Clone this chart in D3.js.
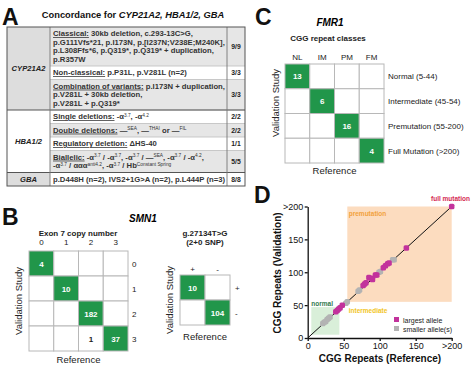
<!DOCTYPE html>
<html>
<head>
<meta charset="utf-8">
<script src="https://cdn.jsdelivr.net/npm/d3@7"></script>
<style>
  body { margin: 0; background: #fff; }
  svg { display: block; font-family: "Liberation Sans", Arial, Helvetica, sans-serif; }
</style>
</head>
<body>
<div id="chart"></div>
<script>
// ---- data ----
// panel A: table of variants
const tableGenes = ["CYP21A2", "HBA1/2", "GBA"]
const geneRowCount = [3, 4, 1]
const tableLines = [
  ["_Classical:_ 30kb deletion, c.293-13C>G,", "p.G111Vfs*21, p.I173N, p.[I237N;V238E;M240K],", "p.L308Ffs*6, p.Q319*, p.Q319* + duplication,", "p.R357W"],
  ["_Non-classical:_ p.P31L, p.V281L (n=2)"],
  ["_Combination of variants:_ p.I173N + duplication,", "p.V281L + 30kb deletion,", "p.V281L + p.Q319*"],
  ["_Single deletions:_ -α^{3.7}, -α^{4.2}"],
  ["_Double deletions:_ —^{SEA}, —^{THAI} or —^{FIL}"],
  ["_Regulatory deletion:_ ΔHS-40"],
  ["_Biallelic:_ -α^{3.7} / -α^{3.7}, -α^{3.7} / —^{SEA}, -α^{3.7} / -α^{4.2},", "-α^{3.7} / ααα^{anti4.2}, -α^{3.7} / Hb^{Constant Spring}"],
  ["p.D448H (n=2), IVS2+1G>A (n=2), p.L444P (n=3)"]
]
const tableFractions = ["9/9", "3/3", "3/3", "2/2", "2/2", "1/1", "5/5", "8/8"]

// panel B: SMN1
const smnCopies = ["0", "1", "2", "3"]
const smnCounts = [
  [4, 0, 0, 0],
  [0, 10, 0, 0],
  [0, 0, 182, 0],
  [0, 0, 1, 37]
]
const snpCalls = ["+", "-"]
const snpCounts = [
  [10, 0],
  [0, 104]
]

// panel C: FMR1 classes
const fmrClasses = ["NL", "IM", "PM", "FM"]
const fmrClassNames = ["Normal (5-44)", "Intermediate (45-54)", "Premutation (55-200)", "Full Mutation (>200)"]
const fmrCounts = [
  [13, 0, 0, 0],
  [0, 6, 0, 0],
  [0, 0, 16, 0],
  [0, 0, 0, 4]
]

// panel D: CGG repeats, [reference, validation]
const largestAllele = [
  [200, 200], [137, 137], [111, 113], [108, 110], [105, 107], [113, 114],
  [94, 96], [96, 96], [88, 91], [85, 92], [90, 89], [79, 82], [77, 80], [81, 84],
  [48, 50], [45, 46], [41, 42], [39, 40], [43, 44]
]
const smallerAllele = [
  [118, 119], [120, 119], [99, 100], [101, 101], [72, 73], [70, 71],
  [55, 55], [53, 53], [31, 32], [29, 30], [27, 28], [23, 24], [21, 22], [25, 25]
]
const cggTicks = [0, 50, 100, 150, 200]
const cggRegions = [
  { name: "normal", x0: 5, x1: 44, y0: 5, y1: 47 },
  { name: "premutation", x0: 55, x1: 200, y0: 55, y1: 200 }
]

// ---- drawing ----
const W = 474, H = 367
const green = "#21964a"
const gridStroke = "#b8b8b8"

const svg = d3.select("#chart").append("svg")
  .attr("width", W)
  .attr("height", H)

function panelLetter(txt, x, y) {
  svg.append("text").attr("x", x).attr("y", y)
    .attr("font-size", 23).attr("font-weight", "bold").attr("fill", "#111")
    .text(txt)
}

// rich text: _underline_ and ^{superscript}
function addRich(sel, str) {
  const re = /_([^_]+)_|\^\{([^}]+)\}|([^_^]+)/g
  let m, raised = false
  while ((m = re.exec(str))) {
    const t = sel.append("tspan")
    if (m[2]) {
      t.attr("dy", -2.6).attr("font-size", 4.8).attr("font-weight", "normal").text(m[2])
      raised = true
      continue
    }
    if (raised) { t.attr("dy", 2.6); raised = false }
    if (m[1]) t.attr("text-decoration", "underline").text(m[1])
    else t.text(m[3])
  }
}

// ======== A ========
panelLetter("A", 2, 25)
const title = svg.append("text").attr("x", 133).attr("y", 18)
  .attr("text-anchor", "middle").attr("font-size", 9.3).attr("font-weight", "bold").attr("fill", "#111")
title.append("tspan").text("Concordance for ")
title.append("tspan").attr("font-style", "italic").text("CYP21A2, HBA1/2, GBA")

const tX = [7, 50, 227, 245]
const lineH = 8.5
let yy = 27
const rows = tableLines.map((lines, i) => {
  const h = lines.length * lineH + 5
  const r = { i, lines, y: yy, h }
  yy += h
  return r
})
const tBottom = yy

// gene blocks
let ri = 0
const blocks = tableGenes.map((gene, gi) => {
  const first = rows[ri], last = rows[ri + geneRowCount[gi] - 1]
  ri += geneRowCount[gi]
  return { gene, gi, y: first.y, h: last.y + last.h - first.y }
})

const tg = svg.append("g")
tg.selectAll(".rowbg").data(rows).join("rect")
  .attr("x", tX[1]).attr("y", d => d.y)
  .attr("width", tX[3] - tX[1]).attr("height", d => d.h)
  .attr("fill", d => d.i % 2 === 0 ? "#e6e6e6" : "#fff")
tg.selectAll(".genebg").data(blocks).join("rect")
  .attr("x", tX[0]).attr("y", d => d.y)
  .attr("width", tX[1] - tX[0]).attr("height", d => d.h)
  .attr("fill", d => d.gi % 2 === 0 ? "#dddddd" : "#fff")

// thin row lines
tg.selectAll(".rowline").data(rows.slice(1)).join("line")
  .attr("x1", tX[1]).attr("x2", tX[3])
  .attr("y1", d => d.y).attr("y2", d => d.y)
  .attr("stroke", "#bdbdbd").attr("stroke-width", 0.8)
// block lines
tg.selectAll(".blockline").data(blocks.slice(1)).join("line")
  .attr("x1", tX[0]).attr("x2", tX[3])
  .attr("y1", d => d.y).attr("y2", d => d.y)
  .attr("stroke", "#555").attr("stroke-width", 1.2)
tg.selectAll(".vline").data([tX[1], tX[2]]).join("line")
  .attr("x1", d => d).attr("x2", d => d)
  .attr("y1", 27).attr("y2", tBottom)
  .attr("stroke", "#777").attr("stroke-width", 0.9)
tg.append("rect")
  .attr("x", tX[0]).attr("y", 27)
  .attr("width", tX[3] - tX[0]).attr("height", tBottom - 27)
  .attr("fill", "none").attr("stroke", "#555").attr("stroke-width", 1)

tg.selectAll(".gene").data(blocks).join("text")
  .attr("x", (tX[0] + tX[1]) / 2).attr("y", d => d.y + d.h / 2 + 2.7)
  .attr("text-anchor", "middle").attr("font-size", 7.6)
  .attr("font-weight", "bold").attr("font-style", "italic").attr("fill", "#222")
  .text(d => d.gene)

rows.forEach(r => {
  const y0 = r.y + (r.h - r.lines.length * lineH) / 2 + 6.6
  r.lines.forEach((ln, k) => {
    const t = tg.append("text").attr("x", tX[1] + 3).attr("y", y0 + k * lineH)
      .attr("font-size", 7.7).attr("font-weight", "bold").attr("fill", "#333")
    addRich(t, ln)
  })
  tg.append("text").attr("x", (tX[2] + tX[3]) / 2).attr("y", r.y + r.h / 2 + 2.5)
    .attr("text-anchor", "middle").attr("font-size", 6.8).attr("font-weight", "bold").attr("fill", "#222")
    .text(tableFractions[r.i])
})

// ======== confusion matrix helper ========
function drawMatrix(opt) {
  const g = svg.append("g")
  const x = d3.scaleBand().domain(opt.cols).range(opt.xRange)
  const y = d3.scaleBand().domain(opt.rows).range(opt.yRange)
  const cells = []
  opt.rows.forEach((rv, r) => opt.cols.forEach((cv, c) => {
    cells.push({ rv, cv, r, c, v: opt.counts[r][c] })
  }))
  g.selectAll("rect").data(cells).join("rect")
    .attr("x", d => x(d.cv)).attr("y", d => y(d.rv))
    .attr("width", x.bandwidth()).attr("height", y.bandwidth())
    .attr("fill", d => d.v > 0 && d.r === d.c ? green : "#fff")
    .attr("stroke", gridStroke).attr("stroke-width", 1)
  g.selectAll(".val").data(cells.filter(d => d.v > 0)).join("text")
    .attr("x", d => x(d.cv) + x.bandwidth() / 2)
    .attr("y", d => y(d.rv) + y.bandwidth() / 2 + 3)
    .attr("text-anchor", "middle").attr("font-size", 8).attr("font-weight", "bold")
    .attr("fill", d => d.r === d.c ? "#fff" : "#222")
    .text(d => d.v)
  g.selectAll(".colh").data(opt.cols).join("text")
    .attr("x", d => x(d) + x.bandwidth() / 2).attr("y", opt.yRange[0] - opt.headGap)
    .attr("text-anchor", "middle").attr("font-size", 8).attr("fill", "#222")
    .text(d => d)
  g.selectAll(".rowh").data(opt.rowLabels).join("text")
    .attr("x", opt.xRange[1] + opt.rowGap)
    .attr("y", (d, i) => y(opt.rows[i]) + y.bandwidth() / 2 + 3)
    .attr("font-size", 8).attr("fill", "#222")
    .text(d => d)
  g.append("text")
    .attr("transform", `translate(${opt.xRange[0] - opt.yLabelGap},${opt.yLabelMid}) rotate(-90)`)
    .attr("text-anchor", "middle").attr("font-size", 9.5).attr("fill", "#222")
    .text("Validation Study")
  g.append("text")
    .attr("x", (opt.xRange[0] + opt.xRange[1]) / 2).attr("y", opt.yRange[1] + opt.refGap)
    .attr("text-anchor", "middle").attr("font-size", 9.5).attr("fill", "#222")
    .text("Reference")
}

// ======== B ========
panelLetter("B", 2, 225)
svg.append("text").attr("x", 143).attr("y", 222)
  .attr("text-anchor", "middle").attr("font-size", 10).attr("font-weight", "bold").attr("font-style", "italic")
  .text("SMN1")
svg.append("text").attr("x", 78).attr("y", 236)
  .attr("text-anchor", "middle").attr("font-size", 8).attr("font-weight", "bold").attr("fill", "#222")
  .text("Exon 7 copy number")
svg.append("text").attr("x", 205).attr("y", 236)
  .attr("text-anchor", "middle").attr("font-size", 8).attr("font-weight", "bold").attr("fill", "#222")
  .text("g.27134T>G")
svg.append("text").attr("x", 205).attr("y", 245)
  .attr("text-anchor", "middle").attr("font-size", 8).attr("font-weight", "bold").attr("fill", "#222")
  .text("(2+0 SNP)")

drawMatrix({
  cols: smnCopies, rows: smnCopies, rowLabels: smnCopies, counts: smnCounts,
  xRange: [29, 128], yRange: [251, 351],
  headGap: 6, rowGap: 4, yLabelGap: 7, yLabelMid: 301, refGap: 12
})
drawMatrix({
  cols: snpCalls, rows: snpCalls, rowLabels: snpCalls, counts: snpCounts,
  xRange: [180, 230], yRange: [275, 325],
  headGap: 3, rowGap: 5, yLabelGap: 7, yLabelMid: 300, refGap: 15
})

// ======== C ========
panelLetter("C", 255, 25)
svg.append("text").attr("x", 330).attr("y", 26)
  .attr("text-anchor", "middle").attr("font-size", 10).attr("font-weight", "bold").attr("font-style", "italic")
  .text("FMR1")
svg.append("text").attr("x", 328).attr("y", 41)
  .attr("text-anchor", "middle").attr("font-size", 8).attr("font-weight", "bold").attr("fill", "#222")
  .text("CGG repeat classes")
drawMatrix({
  cols: fmrClasses, rows: fmrClasses, rowLabels: fmrClassNames, counts: fmrCounts,
  xRange: [285, 384], yRange: [64, 163],
  headGap: 4, rowGap: 4, yLabelGap: 6, yLabelMid: 103, refGap: 11
})

// ======== D ========
panelLetter("D", 254, 203)
const x = d3.scaleLinear().domain([0, 200]).range([307.7, 451.7])
const y = d3.scaleLinear().domain([0, 200]).range([338, 206.5])
const regionFill = { normal: "#d9efd9", premutation: "#fcdcbf" }

svg.selectAll(".region").data(cggRegions).join("rect")
  .attr("x", d => x(d.x0)).attr("y", d => y(d.y1))
  .attr("width", d => x(d.x1) - x(d.x0)).attr("height", d => y(d.y0) - y(d.y1))
  .attr("fill", d => regionFill[d.name])

svg.append("line")
  .attr("x1", x(0)).attr("y1", y(0)).attr("x2", x(200)).attr("y2", y(200))
  .attr("stroke", "#111").attr("stroke-width", 1)

const fmt = d => d === 200 ? ">200" : d
const xAxis = svg.append("g").attr("transform", `translate(0,${y(0)})`)
  .call(d3.axisBottom(x).tickValues(cggTicks).tickFormat(fmt).tickSize(3).tickSizeOuter(0).tickPadding(1.5))
const yAxis = svg.append("g").attr("transform", `translate(${x(0)},0)`)
  .call(d3.axisLeft(y).tickValues(cggTicks).tickFormat(fmt).tickSize(3).tickSizeOuter(0).tickPadding(1.5))
;[xAxis, yAxis].forEach(a => {
  a.selectAll("path,line").attr("stroke", "#111").attr("stroke-width", 1.3)
  a.selectAll("text").attr("font-size", 9).attr("fill", "#111")
    .attr("font-family", "Liberation Sans, Arial, sans-serif")
})

const sq = 5.5
svg.selectAll(".small").data(smallerAllele).join("rect")
  .attr("x", d => x(d[0]) - sq / 2).attr("y", d => y(d[1]) - sq / 2)
  .attr("width", sq).attr("height", sq).attr("rx", 1.5)
  .attr("fill", "#b3b3b3")
svg.selectAll(".large").data(largestAllele).join("rect")
  .attr("x", d => x(d[0]) - sq / 2).attr("y", d => y(d[1]) - sq / 2)
  .attr("width", sq).attr("height", sq).attr("rx", 1.5)
  .attr("fill", "#c2329c")

svg.append("text").attr("x", x(57)).attr("y", 216)
  .attr("font-size", 6.5).attr("font-weight", "bold").attr("fill", "#f2a23c").text("premutation")
svg.append("text").attr("x", x(5)).attr("y", 306)
  .attr("font-size", 6.5).attr("font-weight", "bold").attr("fill", "#2f7a4e").text("normal")
svg.append("text").attr("x", x(57)).attr("y", 313)
  .attr("font-size", 6.5).attr("font-weight", "bold").attr("fill", "#f2c51e").text("intermediate")
svg.append("text").attr("x", 431).attr("y", 201)
  .attr("font-size", 6.5).attr("font-weight", "bold").attr("fill", "#d42a52").text("full mutation")

// legend
const legend = [["largest allele", "#c2329c"], ["smaller allele(s)", "#b3b3b3"]]
legend.forEach((l, i) => {
  svg.append("rect").attr("x", 394).attr("y", 317 + i * 9).attr("width", 5).attr("height", 5).attr("fill", l[1])
  svg.append("text").attr("x", 403).attr("y", 322.5 + i * 9)
    .attr("font-size", 7).attr("fill", "#222").text(l[0])
})

svg.append("text")
  .attr("transform", "translate(281,273) rotate(-90)")
  .attr("text-anchor", "middle").attr("font-size", 10).attr("font-weight", "bold").attr("fill", "#111")
  .text("CGG Repeats (Validation)")
svg.append("text").attr("x", 380).attr("y", 362)
  .attr("text-anchor", "middle").attr("font-size", 10).attr("font-weight", "bold").attr("fill", "#111")
  .text("CGG Repeats (Reference)")
</script>
</body>
</html>
